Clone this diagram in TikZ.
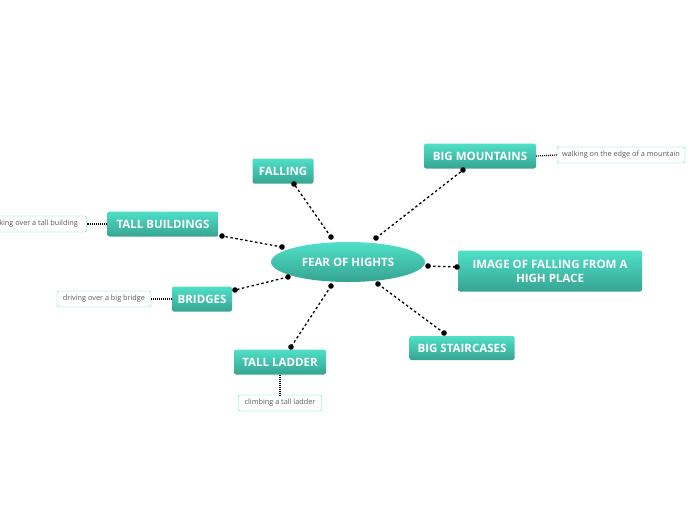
\documentclass[tikz,border=0pt]{standalone}
\usepackage{fontspec}
\setmainfont{Open Sans}
\usetikzlibrary{shapes.geometric,calc}
\begin{document}
\begin{tikzpicture}[x=1pt,y=-1pt,
  tb/.style={rounded corners=2pt,draw=none,text=white,font=\bfseries\fontsize{11.5}{14}\selectfont,inner sep=0pt,top color={rgb,255:red,80;green,224;blue,200},bottom color={rgb,255:red,54;green,164;blue,146}},
  note/.style={draw={rgb,255:red,80;green,224;blue,200},fill=white,rounded corners=2pt,font=\fontsize{7.3}{9}\selectfont,text={rgb,255:red,90;green,90;blue,90},inner sep=0pt,minimum height=16pt},
  conn/.style={line width=1.3pt,dash pattern=on 2.5pt off 2.5pt},
  dot/.style={fill=black,draw=none},
  nconn/.style={line width=1.2pt,dash pattern=on 1pt off 1pt}]
\useasboundingbox (0,0) rectangle (696,520);
\node[tb,ellipse,minimum width=154pt,minimum height=40pt] (c) at (348,262) {FEAR OF HIGHTS};
\node[tb,minimum width=61pt,minimum height=25pt] (fall) at (283,171) {FALLING};
\node[tb,minimum width=112pt,minimum height=25pt] (mount) at (480,156) {BIG MOUNTAINS};
\node[tb,minimum width=111pt,minimum height=25pt] (build) at (163,224) {TALL BUILDINGS};
\node[tb,minimum width=184pt,minimum height=41pt,align=center] (img) at (550,271) {IMAGE OF FALLING FROM A\\HIGH PLACE};
\node[tb,minimum width=60pt,minimum height=25pt] (bridge) at (202,299) {BRIDGES};
\node[tb,minimum width=92pt,minimum height=25pt] (ladder) at (280,362) {TALL LADDER};
\node[tb,minimum width=105pt,minimum height=24pt] (stair) at (462,348) {BIG STAIRCASES};
\node[note,minimum width=128pt] (nm) at (621,155) {walking on the edge of a mountain};
\node[note,minimum width=108pt,anchor=east] (nb) at (87,224) {walking over a tall building};
\node[note,minimum width=94pt] (nbr) at (104,299) {driving over a big bridge};
\node[note,minimum width=83pt] (nl) at (280,403) {climbing a tall ladder};
\foreach \n/\a/\b/\m/\x/\y in {f/-17/-25/fall/11/13, m/28/-24/mount/-17/14, b/-66/-15/build/59/12, i/80/4/img/-93/-4, r/-60/15/bridge/33/-9, l/-17/24/ladder/11/-15, s/30/22/stair/-18/-15}{
  \coordinate (\n1) at ($(c)+(\a,\b)$);
  \coordinate (\n2) at ($(\m)+(\x,\y)$);
  \draw[conn] (\n1) -- (\n2);
  \fill[dot] (\n1) circle (2.8pt) (\n2) circle (2.8pt);
}
\draw[nconn] (mount.east) -- (nm.west);
\draw[nconn] (build.west) -- (nb.east);
\draw[nconn] (bridge.west) -- (nbr.east);
\draw[nconn] (ladder.south) -- (nl.north);
\end{tikzpicture}
\end{document}
